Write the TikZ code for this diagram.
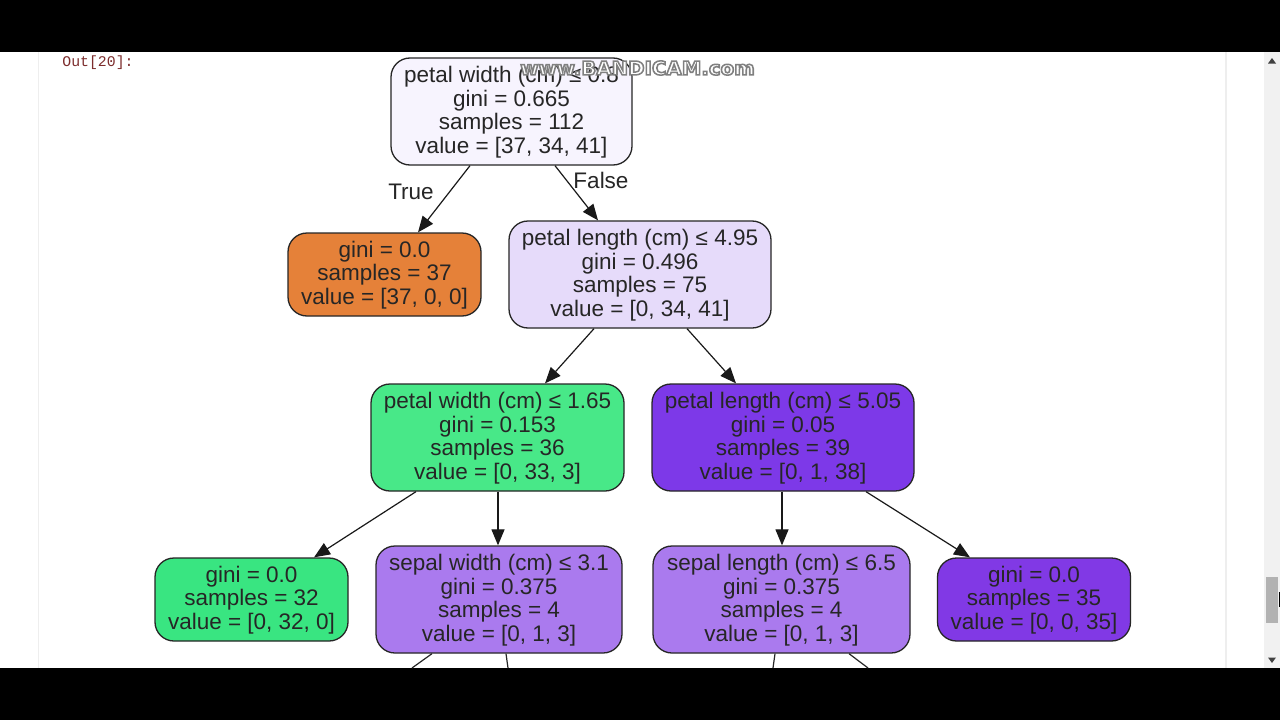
\documentclass[tikz,border=0pt]{standalone}
\usepackage{fontspec}
\setmainfont{Liberation Sans}
\newfontfamily\notefont{Liberation Mono}
\newfontfamily\markfont[FakeBold=8]{DejaVu Sans Bold}
\usetikzlibrary{arrows.meta}
\definecolor{myroot}{RGB}{247,244,254}
\definecolor{mylilac}{RGB}{230,219,250}
\definecolor{myorange}{RGB}{229,129,57}
\definecolor{mymint}{RGB}{72,232,136}
\definecolor{mygreen}{RGB}{57,229,129}
\definecolor{myviolet}{RGB}{125,57,232}
\definecolor{mypurple}{RGB}{129,57,229}
\definecolor{myplum}{RGB}{170,122,238}
\definecolor{mybar}{RGB}{241,241,241}
\definecolor{myrim}{RGB}{238,238,238}
\definecolor{myout}{RGB}{125,45,45}
\tikzset{
  treebox/.style={draw=black!85,line width=1.3pt,rounded corners=19pt,inner sep=0pt,align=center,
    text=black!85,text depth=3.8pt,font=\fontsize{22.5}{23.5}\selectfont},
  tall/.style={treebox,minimum height=107pt},
  leaf/.style={treebox,minimum height=83pt,minimum width=193pt},
  edge/.style={-{Triangle[length=16pt,width=13pt]},line width=1.2pt,black!90},
  stub/.style={line width=1.2pt,black!85},
  edgetext/.style={inner sep=0pt,text=black!85,font=\fontsize{22.5}{23.5}\selectfont}
}
\begin{document}
\begin{tikzpicture}[x=1pt,y=-1pt]
  % Page
  \fill[black] (0,0) rectangle (1280,720);
  \fill[white] (0,52) rectangle (1280,668);
  \useasboundingbox (0,0) rectangle (1280,720);

  % Notebook cell
  \draw[myrim,line width=1.5pt] (38.5,52) -- (38.5,668);
  \draw[myrim,line width=1.5pt] (1226,52) -- (1226,668);
  \node[myout,inner sep=0pt,font=\notefont\fontsize{14.8}{16}\selectfont] (out) at (98,63) {Out[20]:};

  % Scrollbar
  \fill[mybar] (1264,52) rectangle (1280,668);
  \fill[black!30] (1266,577) rectangle (1278,623);
  \fill[black!75] (1268,63.5) -- (1276,63.5) -- (1272,58) -- cycle;
  \fill[black!75] (1268,657.5) -- (1276,657.5) -- (1272,663) -- cycle;
  \fill[black] (1279,592) rectangle (1280,607);

  % Tree nodes
  \node[tall,fill=myroot,minimum width=241pt] (root) at (511.5,111.5)
    {petal width (cm) ≤ 0.8\\gini = 0.665\\samples = 112\\value = [37, 34, 41]};
  \node[leaf,fill=myorange] (setosa) at (384.5,274.5)
    {gini = 0.0\\samples = 37\\value = [37, 0, 0]};
  \node[tall,fill=mylilac,minimum width=262pt] (rest) at (640,274.5)
    {petal length (cm) ≤ 4.95\\gini = 0.496\\samples = 75\\value = [0, 34, 41]};
  \node[tall,fill=mymint,minimum width=253pt] (narrow) at (497.5,437.5)
    {petal width (cm) ≤ 1.65\\gini = 0.153\\samples = 36\\value = [0, 33, 3]};
  \node[tall,fill=myviolet,minimum width=262pt] (wide) at (783,437.5)
    {petal length (cm) ≤ 5.05\\gini = 0.05\\samples = 39\\value = [0, 1, 38]};
  \node[leaf,fill=mygreen] (pure) at (251.5,599.5)
    {gini = 0.0\\samples = 32\\value = [0, 32, 0]};
  \node[tall,fill=myplum,minimum width=246pt] (sepalw) at (499,599.5)
    {sepal width (cm) ≤ 3.1\\gini = 0.375\\samples = 4\\value = [0, 1, 3]};
  \node[tall,fill=myplum,minimum width=257pt] (sepall) at (781.5,599.5)
    {sepal length (cm) ≤ 6.5\\gini = 0.375\\samples = 4\\value = [0, 1, 3]};
  \node[leaf,fill=mypurple] (last) at (1034,599.5)
    {gini = 0.0\\samples = 35\\value = [0, 0, 35]};

  % Edges
  \draw[edge] ([xshift=-41.5pt]root.south) -- ([xshift=33.5pt]setosa.north);
  \draw[edge] ([xshift=43.5pt]root.south) -- ([xshift=-42pt]rest.north);
  \draw[edge] ([xshift=-46pt]rest.south) -- ([xshift=47.5pt]narrow.north);
  \draw[edge] ([xshift=47pt]rest.south) -- ([xshift=-47pt]wide.north);
  \draw[edge] ([xshift=-81.5pt]narrow.south) -- ([xshift=62.5pt]pure.north);
  \draw[edge] ([xshift=0.5pt]narrow.south) -- ([xshift=-1pt]sepalw.north);
  \draw[edge] ([xshift=-1pt]wide.south) -- ([xshift=0.5pt]sepall.north);
  \draw[edge] ([xshift=83pt]wide.south) -- ([xshift=-64pt]last.north);

  % Edge labels
  \node[edgetext] (yes) at (411,192) {True};
  \node[edgetext] (no) at (601,180) {False};

  % Edges running off the bottom
  \coordinate (offa) at (412,668);
  \coordinate (offb) at (508,668);
  \coordinate (offc) at (773,668);
  \coordinate (offd) at (868,668);
  \draw[stub] ([xshift=-67pt]sepalw.south) -- (offa);
  \draw[stub] ([xshift=7pt]sepalw.south) -- (offb);
  \draw[stub] ([xshift=-6.5pt]sepall.south) -- (offc);
  \draw[stub] ([xshift=67.5pt]sepall.south) -- (offd);

  % Watermark
  \node[white,inner sep=0pt,xscale=1.04,font=\markfont\fontsize{19}{20}\selectfont] (mark) at (637.5,68)
    {\special{pdf:code 0.5 G}www.BANDICAM.com};
\end{tikzpicture}
\end{document}
